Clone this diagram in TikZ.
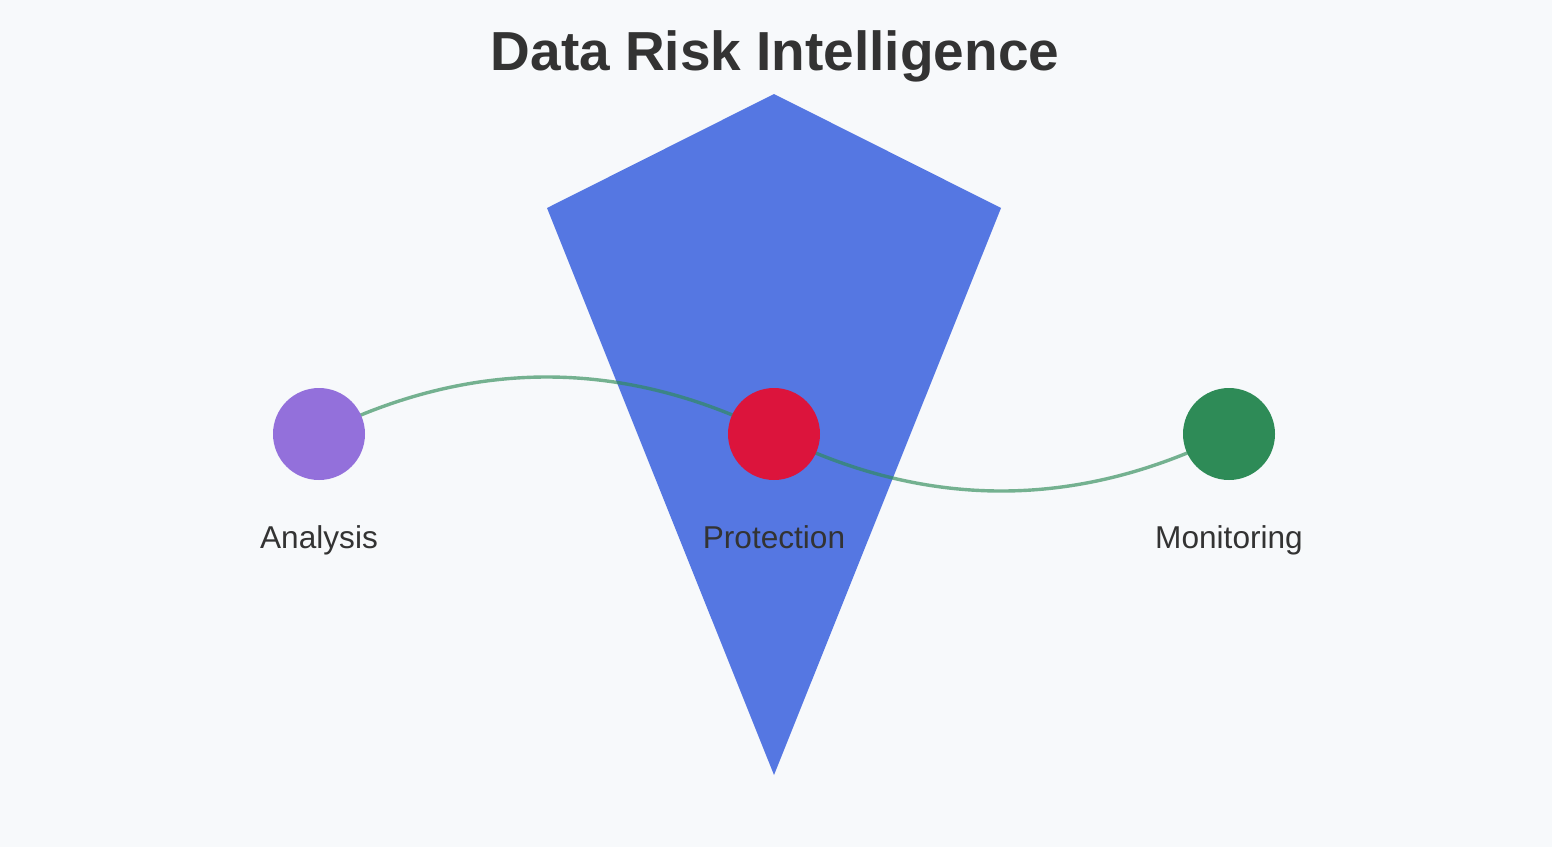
\documentclass[tikz,border=0pt]{standalone}
\usepackage{fontspec}
\setmainfont{Liberation Sans}
\definecolor{bgcol}{HTML}{F7F9FB}
\definecolor{kitecol}{HTML}{5577E2}
\definecolor{textcol}{HTML}{333333}
\definecolor{purplecol}{HTML}{9370DB}
\definecolor{crimsoncol}{HTML}{DC143C}
\definecolor{greencol}{HTML}{2E8B57}

\begin{document}
\begin{tikzpicture}[x=0.5pt,y=-0.5pt,line cap=round,line join=round,
  dot/.style={circle,inner sep=0pt,minimum size=46pt},
  lbl/.style={anchor=base,text=textcol,font=\fontsize{15.8}{18}\selectfont},
  link/.style={color=greencol,opacity=0.65,line width=1.7pt}]

\fill[bgcol] (0,0) rectangle (1552,847);
\useasboundingbox (0,0) rectangle (1552,847);

\node[anchor=base,text=textcol,font=\fontsize{27.5}{31}\selectfont\bfseries] (title) at (775,70) {Data Risk Intelligence};

\fill[kitecol] (774,94) -- (1001,208) -- (774,775) -- (547,208) -- cycle;

\coordinate (pa) at (319,434);
\coordinate (pp) at (774,434);
\coordinate (pm) at (1229,434);
\draw[link] (pa) .. controls (471,358) and (622.7,358) .. (pp)
  .. controls (925.3,510) and (1077,510) .. (pm);

\node[dot,fill=purplecol] (analysis) at (pa) {};
\node[dot,fill=crimsoncol] (protection) at (pp) {};
\node[dot,fill=greencol] (monitoring) at (pm) {};

\node[lbl] (lanalysis) at (319,548) {Analysis};
\node[lbl] (lprotection) at (774,548) {Protection};
\node[lbl] (lmonitoring) at (1229,548) {Monitoring};

\end{tikzpicture}
\end{document}
